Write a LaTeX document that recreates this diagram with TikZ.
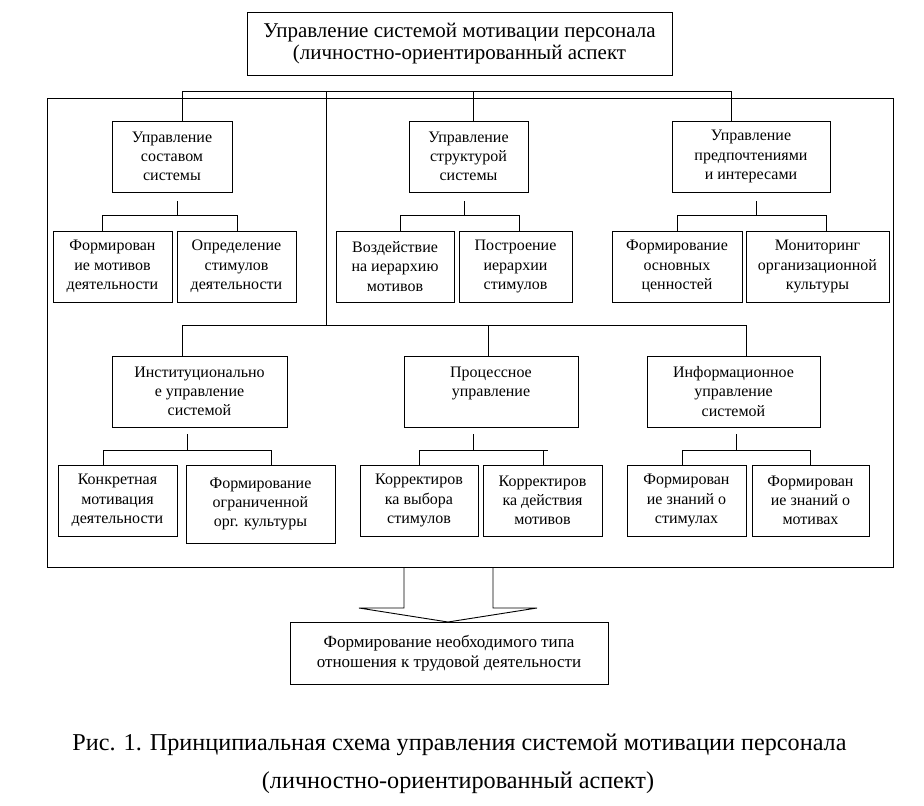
\documentclass[tikz,border=0pt]{standalone}
\usepackage{fontspec}
\setmainfont{Liberation Serif}
\begin{document}
\begin{tikzpicture}[x=1pt,y=-1pt,line width=0.9pt,
  box/.style={draw, line width=0.9pt, align=center, inner sep=0pt,
    minimum height=71pt, font=\fontsize{16}{19.3}\selectfont},
  captext/.style={inner sep=0pt, font=\fontsize{24.2}{28}\selectfont}]
\useasboundingbox (0,0) rectangle (924,806);
% title
\node[box, minimum width=425pt, minimum height=63pt, font=\fontsize{21}{22.5}\selectfont] (top) at (459.5,43.5)
  {Управление системой мотивации персонала\\(личностно-ориентированный аспект};
% frame
\node[draw, line width=0.9pt, minimum width=846pt, minimum height=469pt, inner sep=0pt] (frame) at (470,332.5) {};
% first level
\node[box, minimum width=120pt] (A) at (172,156.5) {Управление\\составом\\системы};
\node[box, minimum width=119pt] (B) at (468.5,156.5) {Управление\\структурой\\системы};
\node[box, minimum width=158pt] (C) at (751,156.5) {Управление\\предпочтениями\\и интересами};
\node[box, minimum width=119pt] (A1) at (112.5,266.5) {Формирован\\ие мотивов\\деятельности};
\node[box, minimum width=119pt] (A2) at (236.5,266.5) {Определение\\стимулов\\деятельности};
\node[box, minimum width=118pt] (B1) at (395,266.5) {Воздействие\\на иерархию\\мотивов};
\node[box, minimum width=113pt] (B2) at (515.5,266.5) {Построение\\иерархии\\стимулов};
\node[box, minimum width=130pt] (C1) at (677,266.5) {Формирование\\основных\\ценностей};
\node[box, minimum width=143pt] (C2) at (817.5,266.5) {Мониторинг\\организационной\\культуры};
% second level
\node[box, minimum width=175pt] (D) at (199.5,391.5) {Институционально\\е управление\\системой};
\node[box, minimum width=174pt] (E) at (491,391.5) {Процессное\\управление\\~};
\node[box, minimum width=173pt] (F) at (733.5,391.5) {Информационное\\управление\\системой};
\node[box, minimum width=119pt] (D1) at (117.5,500.5) {Конкретная\\мотивация\\деятельности};
\node[box, minimum width=149pt, minimum height=78pt] (D2) at (260.5,504) {Формирование\\ограниченной\\орг. культуры};
\node[box, minimum width=118pt] (E1) at (419,500.5) {Корректиров\\ка выбора\\стимулов};
\node[box, minimum width=119pt] (E2) at (542.5,500.5) {Корректиров\\ка действия\\мотивов};
\node[box, minimum width=119pt] (F1) at (686.5,500.5) {Формирован\\ие знаний о\\стимулах};
\node[box, minimum width=117pt] (F2) at (810.5,500.5) {Формирован\\ие знаний о\\мотивах};
% result
\node[box, minimum width=318pt, minimum height=62pt, font=\fontsize{17}{20}\selectfont] (G) at (449,653) {Формирование необходимого типа\\отношения к трудовой деятельности};
% caption
\node[captext] (cap1) at (459.5,745) {Рис. 1. Принципиальная схема управления системой мотивации персонала};
\node[captext] (cap2) at (458,783) {(личностно-ориентированный аспект)};
% top bus
\coordinate (t1) at (182,91); \coordinate (tb) at (473,91);
\coordinate (tc) at (326,91); \coordinate (t2) at (731,91);
\draw (t1) -- (t2);
\draw (t1) -- (t1 |- A.north);
\draw (tb) -- (tb |- B.north);
\draw (t2) -- (t2 |- C.north);
% middle bus
\coordinate (m1) at (182,325); \coordinate (mc) at (326,325);
\coordinate (me) at (488,325); \coordinate (m2) at (746,325);
\draw (tc) -- (mc);
\draw (m1) -- (m2);
\draw (m1) -- (m1 |- D.north);
\draw (me) -- (me |- E.north);
\draw (m2) -- (m2 |- F.north);
% sub buses, level 1
\coordinate (a0) at (177,201); \coordinate (a1) at (177,215);
\coordinate (aL) at (102,215); \coordinate (aR) at (237,215);
\draw (a0) -- (a1); \draw (aL) -- (aR);
\draw (aL) -- (aL |- A1.north); \draw (aR) -- (aR |- A2.north);
\coordinate (b0) at (464,201); \coordinate (b1) at (464,215);
\coordinate (bL) at (400,215); \coordinate (bR) at (519,215);
\draw (b0) -- (b1); \draw (bL) -- (bR);
\draw (bL) -- (bL |- B1.north); \draw (bR) -- (bR |- B2.north);
\coordinate (c0) at (756,201); \coordinate (c1) at (756,215);
\coordinate (cL) at (677,215); \coordinate (cR) at (826,215);
\draw (c0) -- (c1); \draw (cL) -- (cR);
\draw (cL) -- (cL |- C1.north); \draw (cR) -- (cR |- C2.north);
% sub buses, level 2
\coordinate (d0) at (187,434); \coordinate (d1) at (187,450);
\coordinate (dL) at (103,450); \coordinate (dR) at (271,450);
\draw (d0) -- (d1); \draw (dL) -- (dR);
\draw (dL) -- (dL |- D1.north); \draw (dR) -- (dR |- D2.north);
\coordinate (e0) at (473,434); \coordinate (e1) at (473,450);
\coordinate (eL) at (419,450); \coordinate (eR) at (543,450); \coordinate (eX) at (548,450);
\draw (e0) -- (e1); \draw (eL) -- (eX);
\draw (eL) -- (eL |- E1.north); \draw (eR) -- (eR |- E2.north);
\coordinate (f0) at (736,434); \coordinate (f1) at (736,450);
\coordinate (fL) at (682,450); \coordinate (fR) at (810,450);
\draw (f0) -- (f1); \draw (fL) -- (fR);
\draw (fL) -- (fL |- F1.north); \draw (fR) -- (fR |- F2.north);
% big arrow
\coordinate (s1) at (404,567); \coordinate (s2) at (493,567);
\coordinate (w1) at (359,608); \coordinate (w2) at (537,608);
\coordinate (tip) at (448,622);
\draw[line join=miter] (s1) -- (s1 |- w1) -- (w1) -- (tip) -- (w2) -- (s2 |- w2) -- (s2);
\end{tikzpicture}
\end{document}
